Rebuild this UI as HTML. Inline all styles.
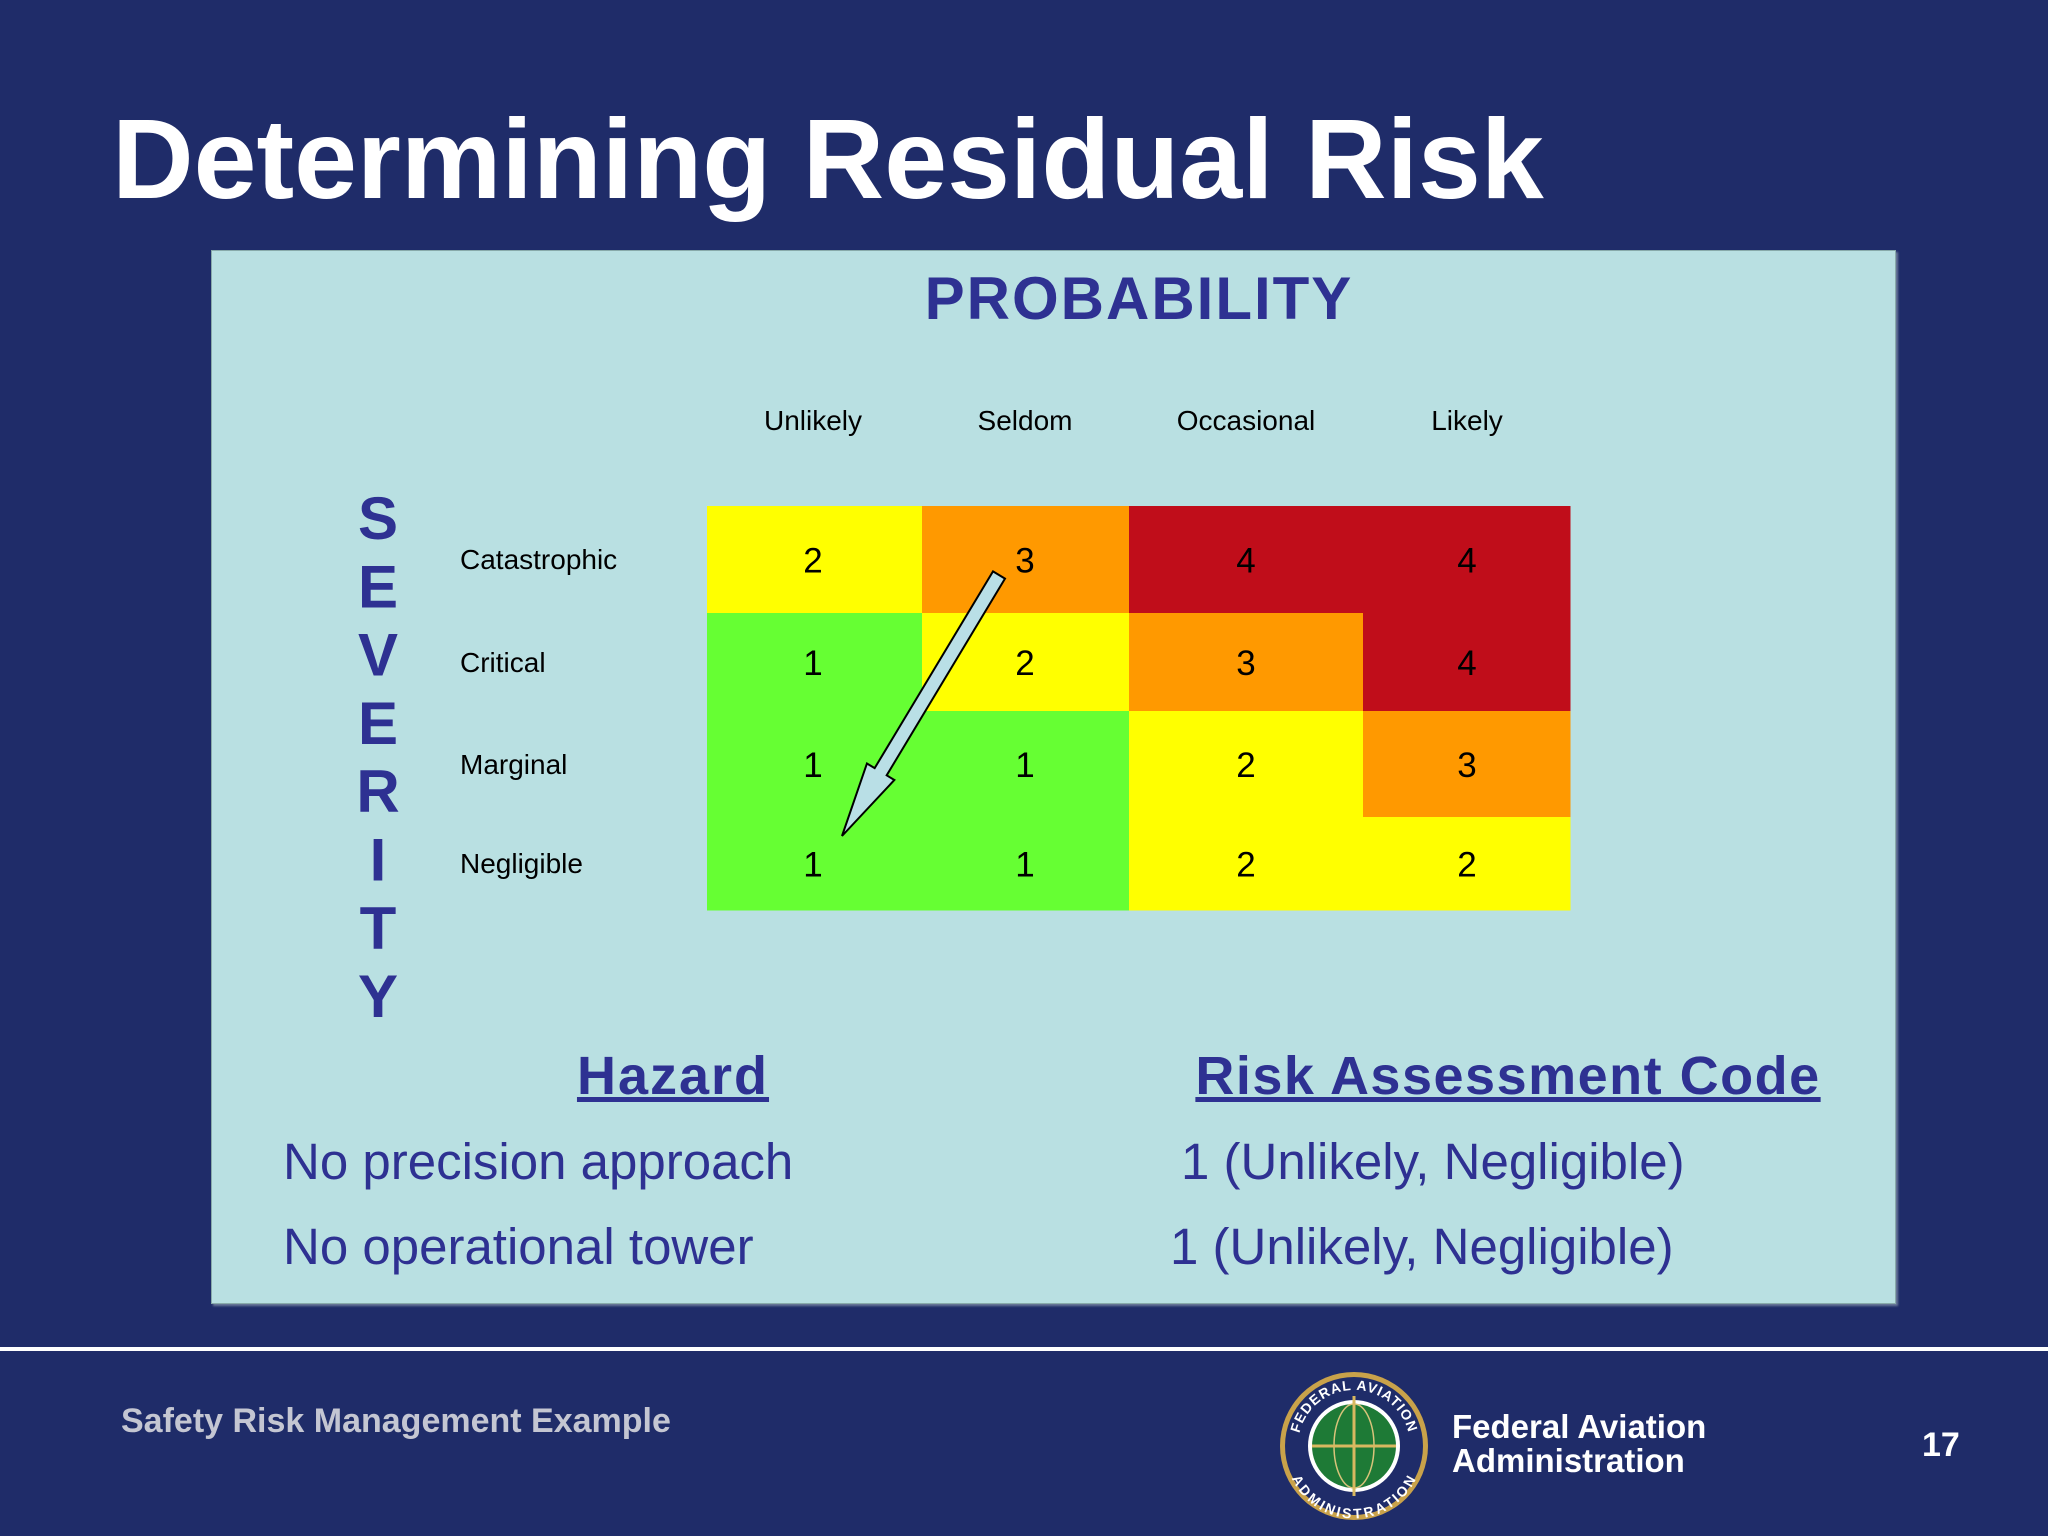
<!DOCTYPE html>
<html><head><meta charset="utf-8"><style>
html,body{margin:0;padding:0;}
body{width:2048px;height:1536px;background:#1f2c69;position:relative;overflow:hidden;font-family:"Liberation Sans",Arial,sans-serif;}
.abs{position:absolute;white-space:nowrap;}
</style></head><body>
<div class="abs" style="left:112px;top:94px;font-size:113px;font-weight:bold;color:#fff;line-height:130px;">Determining Residual Risk</div>
<div class="abs" style="left:211px;top:250px;width:1683px;height:1052px;background:#b9e0e2;border:1px solid #8aa;box-shadow:2px 2px 2px #6b7a99;"></div>
<svg class="abs" style="left:0;top:0" width="2048" height="1536">
<g id="g"></g>
</svg>
<div class="abs" style="left:473px;top:1045px;width:400px;text-align:center;font-size:54px;font-weight:bold;color:#2e3192;text-decoration:underline;letter-spacing:2px;">Hazard</div>
<div class="abs" style="left:1108px;top:1045px;width:800px;text-align:center;font-size:54px;font-weight:bold;color:#2e3192;text-decoration:underline;letter-spacing:1.5px;">Risk Assessment Code</div>
<div class="abs" style="left:283px;top:1132px;font-size:51px;color:#2e3192;">No precision approach</div>
<div class="abs" style="left:283px;top:1217px;font-size:51px;color:#2e3192;">No operational tower</div>
<div class="abs" style="left:1181px;top:1132px;font-size:51px;color:#2e3192;">1 (Unlikely, Negligible)</div>
<div class="abs" style="left:1170px;top:1217px;font-size:51px;color:#2e3192;">1 (Unlikely, Negligible)</div>
<div class="abs" style="left:0;top:1347px;width:2048px;height:4px;background:#fff;"></div>
<div class="abs" style="left:121px;top:1402px;font-size:34px;font-weight:bold;color:#c4c6d2;">Safety Risk Management Example</div>
<svg class="abs" style="left:1278px;top:1370px" width="152" height="152">
<circle cx="76" cy="76" r="74" fill="#c9a24a"/>
<circle cx="76" cy="76" r="69" fill="#1f2c69"/>
<circle cx="76" cy="76" r="46" fill="#fff"/>
<circle cx="76" cy="76" r="42" fill="#1e7a36"/>
<ellipse cx="76" cy="76" rx="20" ry="42" fill="none" stroke="#d8c37a" stroke-width="1.5"/>
<line x1="34" y1="76" x2="118" y2="76" stroke="#d8b860" stroke-width="3"/>
<line x1="76" y1="26" x2="76" y2="126" stroke="#d8b860" stroke-width="3"/>
<defs><path id="arcTop" d="M20,76 A56,56 0 0 1 132,76"/><path id="arcBot" d="M18,80 A58,58 0 0 0 134,80"/></defs>
<text font-size="14" font-weight="bold" fill="#fff" letter-spacing="1"><textPath href="#arcTop" startOffset="50%" text-anchor="middle">FEDERAL AVIATION</textPath></text>
<text font-size="14" font-weight="bold" fill="#fff" letter-spacing="1"><textPath href="#arcBot" startOffset="50%" text-anchor="middle" dominant-baseline="hanging">ADMINISTRATION</textPath></text>
</svg>
<div class="abs" style="left:1452px;top:1410px;font-size:33px;font-weight:bold;color:#fff;line-height:34px;">Federal Aviation<br>Administration</div>
<div class="abs" style="left:1922px;top:1426px;font-size:34px;font-weight:bold;color:#fff;">17</div>
<script>
const probabilities = ["Unlikely","Seldom","Occasional","Likely"];
const severities = ["Catastrophic","Critical","Marginal","Negligible"];
const riskValues = [[2,3,4,4],[1,2,3,4],[1,1,2,3],[1,1,2,2]];
const riskColors = {1:"#66ff33",2:"#ffff00",3:"#ff9900",4:"#c00d1a"};
const severityLetters = ["S","E","V","E","R","I","T","Y"];

const NS="http://www.w3.org/2000/svg";
const g=document.getElementById('g');
const colEdges=[707,922,1129,1363,1570];
const rowEdges=[506,613,711,817,910];
function xBand(i){return [colEdges[i],colEdges[i+1]];}
function yBand(j){return [rowEdges[j],rowEdges[j+1]];}
function mk(tag,attrs,txt){const e=document.createElementNS(NS,tag);for(const k in attrs)e.setAttribute(k,attrs[k]);if(txt!==undefined)e.textContent=txt;g.appendChild(e);return e;}

const t=mk('text',{x:1139,y:319,'text-anchor':'middle','font-size':60,'font-weight':'bold',fill:'#2e3192','letter-spacing':2},'PROBABILITY');



riskValues.forEach((row,j)=>row.forEach((v,i)=>{
  const [x0,x1]=xBand(i),[y0,y1]=yBand(j);
  const r=mk('rect',{x:x0,y:y0,width:x1-x0+0.5,height:y1-y0+0.5,fill:riskColors[v]});
  
  
}));
const cx=[813,1025,1246,1467];
riskValues.forEach((row,j)=>row.forEach((v,i)=>{
  const [y0,y1]=yBand(j);
  const tx=mk('text',{x:cx[i],y:(y0+y1)/2+13,'text-anchor':'middle','font-size':35,fill:'#000'},v);
  
  
}));
probabilities.forEach((p,i)=>{
  const tx=mk('text',{x:cx[i],y:430,'text-anchor':'middle','font-size':28,fill:'#000'},p);
  
  
});
const ry=[559,662,764,863];
severities.forEach((s,j)=>{
  const tx=mk('text',{x:460,y:ry[j]+10,'font-size':28,fill:'#000'},s);
  
  
});
severityLetters.forEach((l,k)=>{
  const tx=mk('text',{x:378,y:539+k*68.3,'text-anchor':'middle','font-size':60,'font-weight':'bold',fill:'#2e3192'},l);
  
  
});
const ax=999,ay=575,bx=842,by=836;
const dx=bx-ax,dy=by-ay,L=Math.hypot(dx,dy),ux=dx/L,uy=dy/L,px=-uy,py=ux;
const sw=7,hw=16,hl=75;
const hx=bx-ux*hl,hy=by-uy*hl;
const pts=[[ax+px*sw,ay+py*sw],[hx+px*sw,hy+py*sw],[hx+px*hw,hy+py*hw],[bx,by],[hx-px*hw,hy-py*hw],[hx-px*sw,hy-py*sw],[ax-px*sw,ay-py*sw]];
const ar=mk('polygon',{points:pts.map(p=>p.join(',')).join(' '),fill:'#b9dfe6',stroke:'#000','stroke-width':2});


</script>
</body></html>
